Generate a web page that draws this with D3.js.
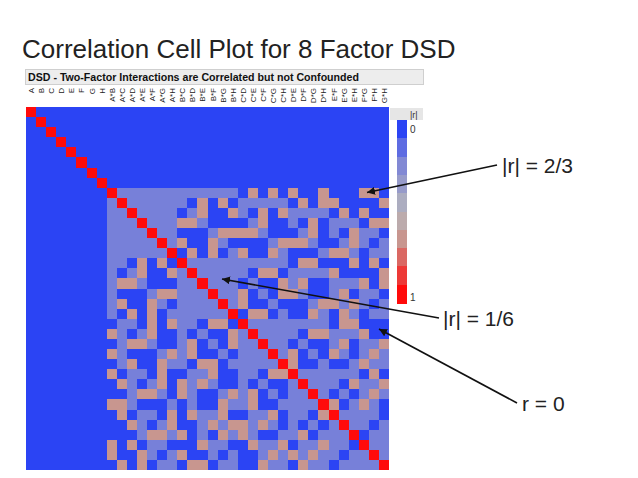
<!DOCTYPE html>
<html>
<head>
<meta charset="utf-8">
<script src="https://cdn.jsdelivr.net/npm/d3@7"></script>
<style>
  body { margin: 0; background: #fff; }
</style>
</head>
<body>
<div id="chart"></div>
<script>
// Terms of the model: 8 main effects, then 28 two-factor interactions
const factors = ["A", "B", "C", "D", "E", "F", "G", "H"];
const interactions = [
  "A*B", "A*C", "A*D", "A*E", "A*F", "A*G", "A*H",
  "B*C", "B*D", "B*E", "B*F", "B*G", "B*H", "C*D",
  "C*E", "C*F", "C*G", "C*H", "D*E", "D*F", "D*G",
  "D*H", "E*F", "E*G", "E*H", "F*G", "F*H", "G*H"
];

// |r| cells, one string per row
// 0 = blue (0), s = 1/6, t = 2/3, 1 = red diagonal
const cellRows = [
  "10000000 0000000 0000000 0000000 0000000",
  "01000000 0000000 0000000 0000000 0000000",
  "00100000 0000000 0000000 0000000 0000000",
  "00010000 0000000 0000000 0000000 0000000",
  "00001000 0000000 0000000 0000000 0000000",
  "00000100 0000000 0000000 0000000 0000000",
  "00000010 0000000 0000000 0000000 0000000",
  "00000001 0000000 0000000 0000000 0000000",
  "00000000 1ssssss ssssss0 t0t0t00 t000tt0",
  "00000000 s1sssss s0t0t0s ssss0t0 tt0000t",
  "00000000 ss1ssss 0st00ts 0t0tsss s0t0t00",
  "00000000 sss1sss tts0000 st00s0t 0sss0tt",
  "00000000 ssss1ss 000sttt ts000st 0s0tss0",
  "00000000 sssss1s t00ts00 00sttts 00sts0s",
  "00000000 ssssss1 0t0t0st 00ts000 stts0ss",
  "00000000 ss0t0t0 1ssssss ssss0tt 000t0t0",
  "00000000 s0st00t s1sssss 0tt0sss st0000t",
  "00000000 stts000 ss1sss0 s00tst0 0ssst0t",
  "00000000 s000stt sss1sst 0s0tts0 0st0ss0",
  "00000000 st00ts0 ssss1st 00s000s ttsts0s",
  "00000000 s0t0t0s sssss10 tt0s00t s0ts0ss",
  "00000000 0ss0t0t ss0tt01 sssssss s0tt000",
  "00000000 ts0st00 s0s00ts 1ssss0t tssst00",
  "00000000 0stts00 st0s0ts s1ss0s0 0st0sst",
  "00000000 ts000st st00s0s ss1st0s 0ts0sts",
  "00000000 0st00ts s0tt0ss sss1t00 s00stss",
  "00000000 t0ss0t0 0sst00s s0tt1ss ssss0t0",
  "00000000 0ts0st0 tsts00s 0s00s1s ss0tsst",
  "00000000 00stts0 ts00sts t0s0ss1 s0s0sts",
  "00000000 tts000s 0s00tss t00ssss 1t0sts0",
  "00000000 0t0ss0t 0tsst00 sst0ss0 t1ssss0",
  "00000000 00ts0st 00ststt sts0s0s 0s1ss0s",
  "00000000 000stts t0s0tst s00sst0 sss10ss",
  "00000000 t0t0ss0 00tss00 tsst0ss tss01ss",
  "00000000 t00ts0s t00s0s0 0ststst ss0ss1s",
  "00000000 0t0t0ss 0tt0ss0 0tss0ts s0ssss1"
];
const codeValue = { "0": 0, "s": 1 / 6, "t": 2 / 3, "1": 1 };

const legendTicks = [0, 1];
const legendSteps = [0, 1, 2, 3, 4, 5, 6, 7, 8, 9];
const notes = ["|r| = 2/3", "|r| = 1/6", "r = 0"];

const W = 638, H = 478;
const terms = factors.concat(interactions);

const svg = d3.select("#chart").append("svg")
  .attr("width", W)
  .attr("height", H)
  .style("font-family", "'Liberation Sans', Arial, sans-serif");

// Title
svg.append("text")
  .attr("x", 22)
  .attr("y", 58)
  .attr("font-size", 26)
  .attr("fill", "#222")
  .text("Correlation Cell Plot for 8 Factor DSD");

// Report header bar
svg.append("rect")
  .attr("x", 25.5).attr("y", 69.5)
  .attr("width", 398).attr("height", 15)
  .attr("fill", "#ededed")
  .attr("stroke", "#cfcfcf");

svg.append("text")
  .attr("x", 28)
  .attr("y", 81)
  .attr("font-size", 10)
  .attr("font-weight", 700)
  .attr("fill", "#111")
  .attr("textLength", 331)
  .attr("lengthAdjust", "spacingAndGlyphs")
  .text("DSD - Two-Factor Interactions are Correlated but not Confounded");

// Scales
const x = d3.scaleBand().domain(terms).range([26, 389]);
const y = d3.scaleBand().domain(terms).range([107, 470]);

const color = d3.scaleLinear()
  .domain([0, 1 / 6, 0.5, 2 / 3, 1])
  .range(["#2b44f4", "#7780d9", "#b6b6bb", "#c8968f", "#ff0b0b"]);

// Cells
const cells = [];
terms.forEach((rowTerm, i) => {
  const codes = cellRows[i].replace(/ /g, "");
  terms.forEach((colTerm, j) => {
    cells.push({ row: rowTerm, col: colTerm, value: codeValue[codes[j]] });
  });
});

svg.append("g")
  .attr("shape-rendering", "crispEdges")
  .selectAll("rect")
  .data(cells)
  .join("rect")
  .attr("x", d => x(d.col))
  .attr("y", d => y(d.row))
  .attr("width", x.bandwidth() + 0.4)
  .attr("height", y.bandwidth() + 0.4)
  .attr("fill", d => color(d.value));

// Column labels, rotated
svg.append("g")
  .selectAll("text")
  .data(terms)
  .join("text")
  .attr("transform", d => `translate(${x(d) + x.bandwidth() / 2 + 3},88) rotate(-90)`)
  .attr("text-anchor", "end")
  .attr("font-size", 8)
  .attr("fill", "#222")
  .text(d => d);

// Colour legend
svg.append("rect")
  .attr("x", 390).attr("y", 108)
  .attr("width", 33).attr("height", 12)
  .attr("fill", "#e6e6e6");

svg.append("text")
  .attr("x", 410).attr("y", 117.5)
  .attr("font-size", 9)
  .attr("fill", "#333")
  .text("|r|");

const ly = d3.scaleLinear().domain([0, legendSteps.length]).range([120, 303]);

svg.append("g")
  .attr("shape-rendering", "crispEdges")
  .selectAll("rect")
  .data(legendSteps)
  .join("rect")
  .attr("x", 397)
  .attr("y", d => ly(d))
  .attr("width", 10)
  .attr("height", ly(1) - ly(0) + 0.5)
  .attr("fill", d => color(d / (legendSteps.length - 1)));

const tickY = d3.scaleLinear().domain([0, 1]).range([133, 301]);
svg.append("g")
  .selectAll("text")
  .data(legendTicks)
  .join("text")
  .attr("x", 410)
  .attr("y", d => tickY(d))
  .attr("font-size", 10)
  .attr("fill", "#333")
  .text(d => d);

// Annotations with arrows
svg.append("defs").append("marker")
  .attr("id", "head")
  .attr("viewBox", "0 0 10 10")
  .attr("refX", 10).attr("refY", 5)
  .attr("markerWidth", 5).attr("markerHeight", 5)
  .attr("markerUnits", "strokeWidth")
  .attr("orient", "auto")
  .append("path")
  .attr("d", "M0,0 L10,5 L0,10 Z")
  .attr("fill", "#111");

const noteLayout = [
  { tx: 502, ty: 173, x1: 497, y1: 165, x2: 367, y2: 192.5 },
  { tx: 443, ty: 326, x1: 439, y1: 318, x2: 222, y2: 279 },
  { tx: 522, ty: 411, x1: 517, y1: 403, x2: 379, y2: 329 }
];

notes.forEach((label, i) => {
  const p = noteLayout[i];
  svg.append("line")
    .attr("x1", p.x1).attr("y1", p.y1)
    .attr("x2", p.x2).attr("y2", p.y2)
    .attr("stroke", "#111")
    .attr("stroke-width", 1.6)
    .attr("marker-end", "url(#head)");
  svg.append("text")
    .attr("x", p.tx)
    .attr("y", p.ty)
    .attr("font-size", 21)
    .attr("fill", "#222")
    .text(label);
});
</script>
</body>
</html>
